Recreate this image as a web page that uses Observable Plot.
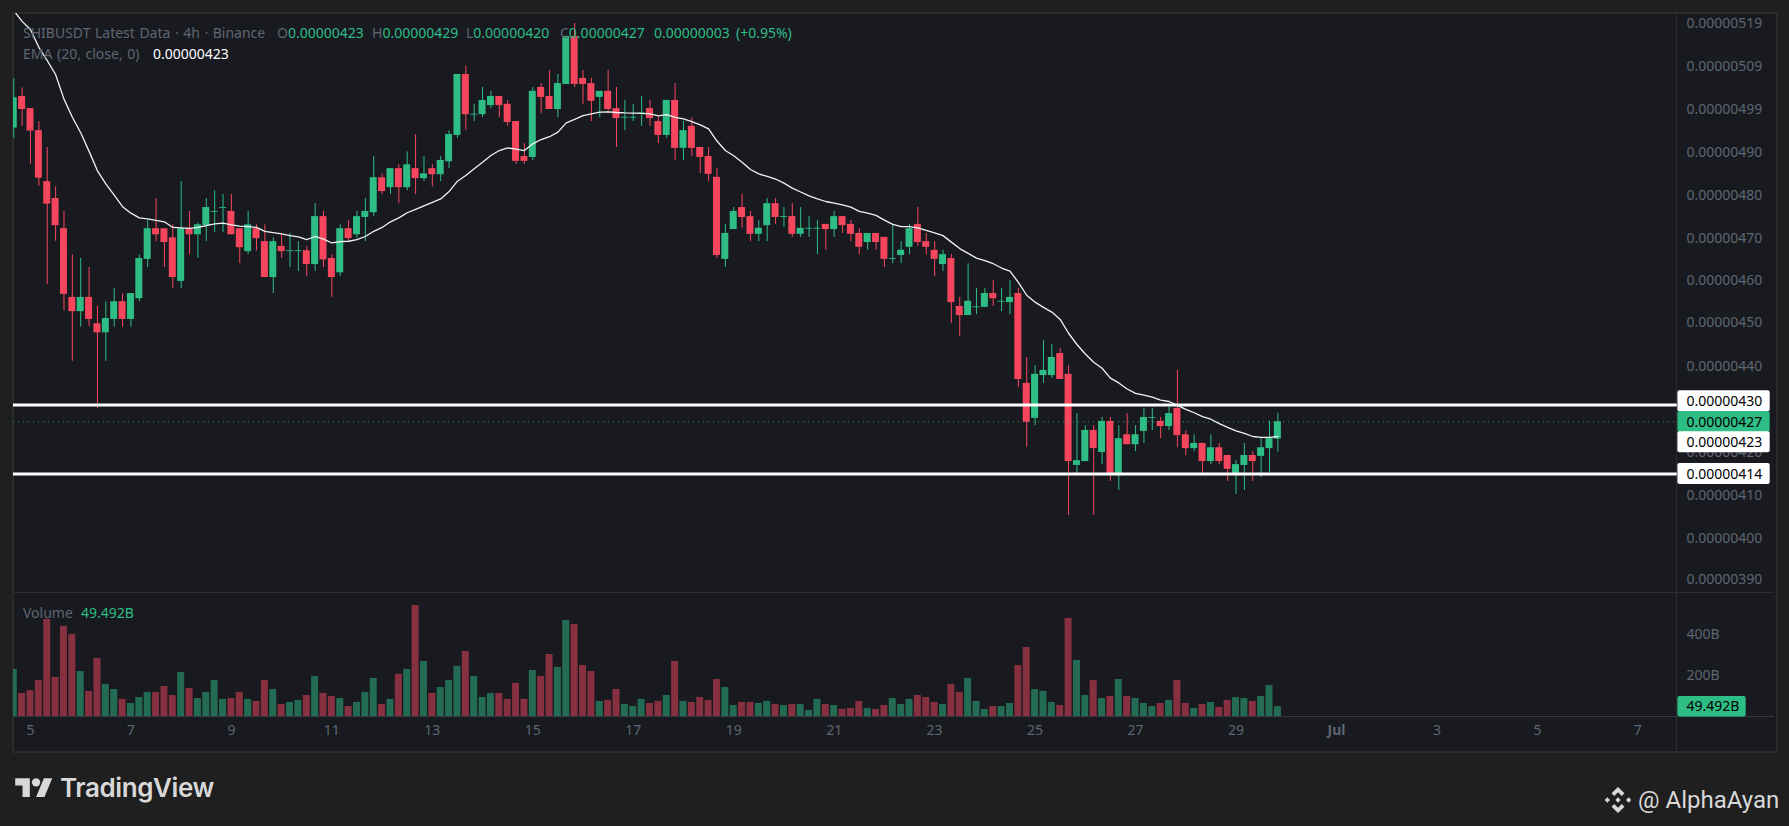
<!DOCTYPE html>
<html>
<head>
<meta charset="utf-8">
<script src="https://cdn.jsdelivr.net/npm/d3@7"></script>
<script src="https://cdn.jsdelivr.net/npm/@observablehq/plot@0.6"></script>
<style>
html,body{margin:0;padding:0;background:#1f1f1f;}
#root{position:relative;width:1789px;height:826px;overflow:hidden;background:#1f1f1f;font-family:"Noto Sans",sans-serif;}
#pane{position:absolute;left:12px;top:12px;width:1762px;height:737px;background:#181a20;border:2px solid #2a2b2d;}
.sep{position:absolute;background:#2b2e35;}
.lg{position:absolute;font-size:14px;line-height:18px;white-space:nowrap;color:#5e6673;word-spacing:0.9px;}
.g{color:#2ebd85;}
.w{color:#fff;}
</style>
</head>
<body>
<div id="root">
  <div id="pane"></div>
  <div class="sep" style="left:1676px;top:14px;width:1px;height:736px"></div>
  <div class="sep" style="left:14px;top:592px;width:1760px;height:1px"></div>
  <div class="sep" style="left:14px;top:716px;width:1760px;height:1px;background:#363a42"></div>
  <div id="charts"></div>
  <div class="lg" style="left:23px;top:24px">SHIBUSDT Latest Data · 4h · Binance</div>
  <div class="lg" style="left:277px;top:24px">O<span class="g">0.00000423</span></div>
  <div class="lg" style="left:372px;top:24px">H<span class="g">0.00000429</span></div>
  <div class="lg" style="left:466px;top:24px">L<span class="g">0.00000420</span></div>
  <div class="lg" style="left:560px;top:24px">C<span class="g">0.00000427</span></div>
  <div class="lg g" style="left:654px;top:24px">0.00000003</div>
  <div class="lg g" style="left:736px;top:24px">(+0.95%)</div>
  <div class="lg" style="left:23px;top:45px">EMA (20, close, 0)</div>
  <div class="lg w" style="left:153px;top:45px">0.00000423</div>
  <div class="lg" style="left:23px;top:604px">Volume</div>
  <div class="lg g" style="left:81px;top:604px">49.492B</div>

  <svg style="position:absolute;left:15px;top:774px" width="38" height="24" viewBox="0 0 36 23" fill="#d8d8d8"><path d="M14 22H7V11H0V4h14v18zM28 22h-8l7.5-18h8L28 22z"/><circle cx="20" cy="8" r="4"/></svg>
  <div style="position:absolute;left:60px;top:772px;font:600 26px/32px Inter,sans-serif;color:#d8d8d8;letter-spacing:-0.4px">TradingView</div>

  <svg style="position:absolute;left:1604px;top:786px" width="28" height="28" viewBox="0 0 126 126" fill="#d8d8d8"><path d="M63 4l29 29-12 12-17-17-17 17-12-12zM63 122L34 93l12-12 17 17 17-17 12 12zM15 51l12 12-12 12L3 63zM111 51l12 12-12 12-12-12zM63 51l12 12-12 12-12-12z"/></svg>
  <div style="position:absolute;left:1638px;top:783px;font:400 24px/34px Roboto,sans-serif;color:#d8d8d8;white-space:nowrap">@ AlphaAyan</div>
</div>
<script>
// Prices in units of 0.00000001
const opens = [495,502.3,499.5,494.4,482.6,478.7,471.7,455.8,452.5,455.8,449.7,447.6,450.7,454.8,450.7,455.5,464.6,471.7,471.7,469.6,459.5,471.7,470.3,472.4,475.5,476.4,475.7,471.7,466.4,471.7,468.7,460.4,467.6,466.4,466.4,466.6,463.4,474.5,464.8,461.5,471.7,470.3,474.3,475.4,483.5,481.2,485.6,481.2,485.6,483.3,485.6,484.2,487.2,493.3,507.4,498,498.1,500.2,502.3,500.5,496.5,488.4,488.2,504.4,502.3,499.3,505.1,516.2,506.5,505.3,502.1,503.5,499.5,497.3,497.3,498.3,499.5,496.5,493.3,501.4,490.3,495.4,490.5,488.4,483.6,464.6,471.5,476.6,474.5,470.4,472.4,477.5,474.3,474.5,470.4,471.6,471.6,472.7,471.5,474.5,472.7,470.6,468.5,470.6,469.7,464.6,465.5,467.4,472.7,468.7,466.7,463.4,464.8,453.7,451.6,453.4,453.5,456.7,454.7,454.6,456.7,435.9,427.8,437.7,437.7,442.8,438,416.9,417.8,425,419.9,427.1,414.8,424,421.7,424.8,427.8,427.1,425.9,430.1,424,420.8,422,417.8,421,419.2,414.8,416.9,419.2,419,420.8,423];
const closes = [502,499.3,494.3,483.4,477.4,472.4,456.5,452.5,455.8,450.7,447.6,450.9,454.8,450.7,456.7,464.8,471.7,470.3,468.5,460.4,471.7,470.3,472.6,476.6,475.7,476.6,470.3,467.3,472.6,469.4,460.4,468.7,466.4,466.6,466.6,463.4,474.5,464.5,460.4,471.7,469.4,474.5,475.7,483.5,480.3,485.6,481.2,486.5,483.3,484.4,484.2,487.5,493.5,507.4,498.1,498.2,501.4,502.3,500.2,496.3,487.3,487.3,503.5,502.1,499.3,505.3,516.2,505.1,505.1,501.2,503.5,499.3,497.2,497.5,497.5,498.5,497.2,493.3,501.4,490.3,494.4,490.3,488.2,484.3,465.5,470.6,475.7,474.3,470.4,471.8,477.5,474.3,474.5,470.4,471.8,471.8,471.8,471.5,474.5,472.4,470.4,467.4,470.6,468.5,464.6,464.8,466.7,471.7,468.5,467.4,464.6,465.7,454.6,451.6,454.9,453.6,456.7,455.5,454.9,455.8,436.8,426.9,438,438.9,441.9,436.8,417.8,418,425,420.8,427.1,414.8,423.1,421.7,424,428,428,425.9,428.9,423.8,420.8,422,417.8,421,417.8,416,417.1,419.2,417.8,421,423.1,427];
const highs = [506.4,504.3,499.5,496.5,490.5,481.4,475.7,465.6,464.8,462.7,453.7,454.8,457.8,456.6,456.7,465.6,473.6,478.7,471.7,472.6,482.6,475.7,473,478.7,480.5,479.6,479.6,471.7,475.7,472.6,472.6,469.6,470.6,470.6,468.7,467.6,477.5,475.7,465.7,472.6,473.6,475.7,478.7,488.4,484.4,485.6,486.5,489.5,493.5,488.4,486.5,488.4,494.4,507.4,509.3,500.5,504.4,503.5,502.3,501.4,496.5,491.4,504.4,505.3,508.3,507.4,516.3,519.2,508.3,506.5,503.5,508.3,504.4,501.4,500.5,502.3,501.4,497.4,501.4,505.3,496.5,497.4,490.5,490.5,485.6,472.7,476.6,479.6,475.7,473.6,478.7,478.7,476.6,477.5,476.6,474.5,473.6,472.7,475.7,474.5,473.6,471.7,470.6,470.6,469.7,472.7,468.7,472.7,476.6,470.6,468.7,466.7,465.7,455.8,463.6,457.9,457.9,459.7,457.9,459.7,457.9,441.9,440,445.8,444.9,444,440,428.9,426.1,426.1,428,428,426.1,428.9,426.1,430.1,430.1,428,431,438.9,424.9,424,422,424,422,419.2,418,422,420.1,423.4,427.1,429];
const lows = [492.6,495.4,486.6,481.5,458.8,468.8,452.7,441,448.9,449,430,441,448.9,448.9,448.9,454.8,462.7,468.7,462.7,457.8,457.8,465.7,464.8,468.7,470.8,470.8,470.3,463.6,465.7,466.6,460.4,456.7,464.8,462.7,461.8,460.6,461.8,462.7,455.8,460.6,468.7,469.4,468.7,474.5,479.6,479.6,477.5,480.5,479.6,482.6,481.4,482.6,485.6,492.6,494.4,496.5,497.4,499.5,497.4,495.4,486.6,486.6,487.5,498.4,499.3,497.4,505.1,504.4,500.5,496.5,497.4,498.4,490.5,494.4,496.5,495.4,495.4,491.4,492.6,487.5,487.5,488.4,484.5,482.6,464.8,462.7,471.5,471.8,468.7,468.7,468.7,472.7,472,469.7,469.7,469.7,465.7,466.7,469.7,470.6,468.7,465.7,466.7,466.7,462.7,463.6,463.6,465.7,467.6,465.7,460.6,461.8,449.8,446.8,451.6,451.8,453.5,453.7,452.5,451.8,434.9,421.1,426.1,435.9,437,436.8,405.3,415,417.8,405.3,417.1,413.2,411.1,421.7,420.1,422,425,423.1,425,421,419.2,420.1,415,417.1,417.1,413.2,410.2,411.1,413.2,414.1,415.2,420];
const emaValues = [522.2,519.7,517.8,513.7,510.6,507.4,501.7,497.5,493.9,489.6,485.1,482.1,479.5,476.8,475.3,474.2,474,473.65,473.3,472,471.9,471.8,472,472.4,472.8,473,472.6,472.3,472.2,472,471.1,470.8,470.5,470.1,469.8,469.2,469.9,469.3,468.4,468.7,468.8,469.2,469.9,471.1,472,473.3,474.2,475.4,476.2,477,477.8,478.6,480.3,482.7,484,485.6,487.1,488.65,489.8,490.4,490.1,489.8,491.35,492.35,493,494.05,496.2,497,497.9,498.3,498.7,498.75,498.6,498.5,498.45,498.4,498.3,497.8,498.1,497.45,497.15,496.5,495.75,494.8,492,489.8,488.6,487.1,485.4,484.4,483.8,483.2,482.25,481.1,480.2,479.3,478.6,478,477.6,477.2,476.7,475.7,475.3,474.8,473.7,472.7,472.2,472.2,471.9,471.3,470.75,470.1,468.6,467.1,466,464.9,464.3,463.6,462.6,461.9,459.3,456.3,454.7,453.5,452.4,450.7,447.5,444.9,442.7,440.8,439.4,437.1,436,434.6,433.6,433.2,432.7,432,431.7,430.8,429.9,429.1,428.2,427.6,426.6,425.7,424.9,424.3,423.6,423.4,423.4,423.6];
// Volume in billions
const volumes = [231,114,128,177,475,192,441,402,221,124,285,158,133,85,65,94,119,119,148,104,216,138,89,119,177,85,89,119,85,75,177,133,60,70,80,104,197,114,99,89,50,70,119,187,60,85,207,231,543,270,114,143,177,246,319,197,94,114,114,85,163,85,226,197,304,241,470,450,250,221,75,80,133,60,50,85,65,75,104,270,75,70,94,80,182,143,55,70,70,65,75,60,55,60,60,31,85,60,55,36,41,75,41,36,55,89,60,85,104,94,70,60,158,119,187,75,36,50,50,65,250,338,133,124,70,55,480,275,104,177,89,99,182,99,89,65,50,65,80,177,65,41,60,70,46,80,94,89,75,99,153,49.492];

const firstCandle = "2024-06-04T16:00:00Z";
const candleHours = 4;

const priceTickValues = [519.27,509.3,499.36,489.4,479.45,469.5,459.6,449.9,439.9,420,410,400.1,390.4];
const priceTickLabels = ["0.00000519","0.00000509","0.00000499","0.00000490","0.00000480","0.00000470","0.00000460","0.00000450","0.00000440","0.00000420","0.00000410","0.00000400","0.00000390"];

const levelValues = [430.9,414.9];
const levelLabels = ["0.00000430","0.00000414"];
const lastClose = 427;
const lastCloseLabel = "0.00000427";
const emaLast = 423.6;
const emaLabel = "0.00000423";
const volumeTicks = [400,200];
const volumeTickLabels = ["400B","200B"];
const lastVolume = 49.492;
const lastVolumeLabel = "49.492B";

const xTickDates = ["2024-06-05","2024-06-07","2024-06-09","2024-06-11","2024-06-13","2024-06-15","2024-06-17","2024-06-19","2024-06-21","2024-06-23","2024-06-25","2024-06-27","2024-06-29"];
const xTickLabels = ["5","7","9","11","13","15","17","19","21","23","25","27","29"];
const xTickDatesB = ["2024-07-03","2024-07-05","2024-07-07"];
const xTickLabelsB = ["3","5","7"];
const monthTickDate = "2024-07-01";
const monthTickLabel = "Jul";

// ---- build ----
const t0 = new Date(firstCandle).getTime();
const H = 3600e3;
const candles = opens.map((o,i)=>({
  t:new Date(t0+i*candleHours*H), o, c:closes[i], h:highs[i], l:lows[i], ema:emaValues[i], v:volumes[i]
}));
const isUp = d=>d.c>=d.o;
const W = 1789, RIGHT = 112.3, LEFT = 13;
const plotW = W-RIGHT-LEFT;
const xDomain = [new Date("2024-06-04T15:53:00Z"), new Date("2024-07-07T18:48:00Z")];
const UP="#2ebd85", DOWN="#f6465d", VUP="#236c53", VDOWN="#87303f", TXT="#5e6673";
const FONT='"Noto Sans",sans-serif';
const halfBody = 1.67*H;
const body = {x1:d=>new Date(+d.t-halfBody), x2:d=>new Date(+d.t+halfBody)};

const tag = (value,label,fill,dy)=>[
  Plot.rect([value],{y1:d=>d-2.43,y2:d=>d+2.43,insetLeft:plotW+0.7,insetRight:-93,dy,fill,rx:2}),
  Plot.text([value],{y:d=>d,text:()=>label,frameAnchor:"right",dx:9.3,dy,textAnchor:"start",fill:"#000",fontSize:14,fontFamily:FONT})
];

const price = Plot.plot({
  width:W,height:592,marginLeft:LEFT,marginRight:RIGHT,marginTop:13,marginBottom:0,
  style:{position:"absolute",left:0,top:0,background:"transparent",overflow:"visible",fontFamily:FONT},
  x:{type:"utc",domain:xDomain,axis:null},
  y:{domain:[387.49,521.52],axis:null},
  marks:[
    Plot.axisY({anchor:"right",ticks:priceTickValues,tickSize:0,tickPadding:9.3,label:null,
      tickFormat:(d,i)=>priceTickLabels[i],fill:TXT,fontSize:14,fontFamily:FONT}),
    Plot.ruleX(candles,{x:"t",y1:"l",y2:"h",stroke:d=>isUp(d)?UP:DOWN,strokeWidth:1,clip:true}),
    Plot.rect(candles,{...body,y1:"o",y2:"c",fill:d=>isUp(d)?UP:DOWN,clip:true}),
    Plot.ruleY([lastClose],{stroke:UP,strokeWidth:1,strokeDasharray:"1,4",strokeOpacity:.8}),
    Plot.ruleY(levelValues,{stroke:"#fff",strokeWidth:3}),
    Plot.line(candles,{x:"t",y:"ema",stroke:"#f2f2f2",strokeWidth:1.3,clip:true}),
    ...tag(levelValues[0],levelLabels[0],"#fff",-3.6),
    ...tag(lastClose,lastCloseLabel,UP,0.2),
    ...tag(emaLast,emaLabel,"#fff",5.8),
    ...tag(levelValues[1],levelLabels[1],"#fff",0)
  ]
});

const vol = Plot.plot({
  width:W,height:159,marginLeft:LEFT,marginRight:RIGHT,marginTop:0,marginBottom:34.7,
  style:{position:"absolute",left:0,top:"592px",background:"transparent",overflow:"visible",fontFamily:FONT},
  x:{type:"utc",domain:xDomain,axis:null},
  y:{domain:[0,606.3],axis:null},
  marks:[
    Plot.rect(candles,{...body,y1:0,y2:"v",fill:d=>isUp(d)?VUP:VDOWN,clip:true}),
    Plot.axisY({anchor:"right",ticks:volumeTicks,tickSize:0,tickPadding:9.3,label:null,
      tickFormat:(d,i)=>volumeTickLabels[i],fill:TXT,fontSize:14,fontFamily:FONT}),
    Plot.axisX({anchor:"bottom",ticks:xTickDates.map(s=>new Date(s+"T00:00:00Z")),tickSize:0,tickPadding:8,label:null,
      tickFormat:(d,i)=>xTickLabels[i],fill:TXT,fontSize:14,fontFamily:FONT}),
    Plot.axisX({anchor:"bottom",ticks:xTickDatesB.map(s=>new Date(s+"T00:00:00Z")),tickSize:0,tickPadding:8,label:null,
      tickFormat:(d,i)=>xTickLabelsB[i],fill:TXT,fontSize:14,fontFamily:FONT}),
    Plot.axisX({anchor:"bottom",ticks:[new Date(monthTickDate+"T00:00:00Z")],tickSize:0,tickPadding:8,label:null,
      tickFormat:()=>monthTickLabel,fill:TXT,fontSize:14,fontWeight:"bold",fontFamily:FONT}),
    Plot.rect([lastVolume],{y1:d=>d-50,y2:d=>d+50,insetLeft:plotW+0.7,insetRight:-69,fill:UP,rx:2}),
    Plot.text([lastVolume],{y:d=>d,text:()=>lastVolumeLabel,frameAnchor:"right",dx:9.3,dy:-0.3,textAnchor:"start",fill:"#000",fontSize:14,fontFamily:FONT})
  ]
});
const host=document.getElementById("charts");
host.append(price,vol);
</script>
</body>
</html>
